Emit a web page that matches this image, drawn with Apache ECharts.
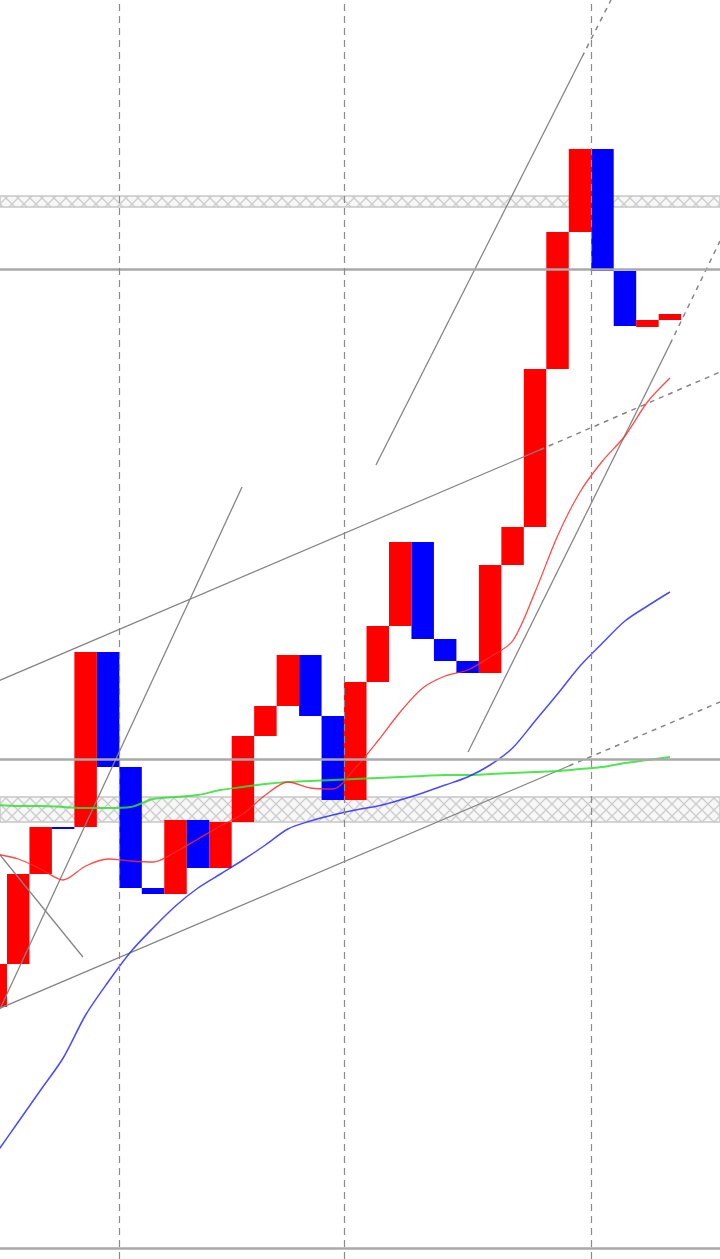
<!DOCTYPE html>
<html>
<head>
<meta charset="utf-8">
<script src="https://cdn.jsdelivr.net/npm/echarts@6/dist/echarts.min.js"></script>
<style>
html, body { margin: 0; padding: 0; background: #fff; }
#chart { width: 720px; height: 1259px; }
</style>
</head>
<body>
<div id="chart"></div>
<script>
// three line break boxes, one per column
const opens = [139.93, 140.36, 141.26, 141.73, 141.73, 143.48, 142.33, 141.12, 141.06, 141.80,
  141.32, 141.78, 142.64, 142.94, 143.45, 142.84, 142.00, 143.18, 143.74, 144.58,
  143.61, 143.39, 143.27, 144.35, 144.73, 146.31, 147.68, 148.51, 147.29, 146.73, 146.80];
const closes = [140.36, 141.26, 141.73, 141.71, 143.48, 142.33, 141.12, 141.06, 141.80, 141.32,
  141.78, 142.64, 142.94, 143.45, 142.84, 142.00, 143.18, 143.74, 144.58, 143.61,
  143.39, 143.27, 144.35, 144.73, 146.31, 147.68, 148.51, 147.29, 146.74, 146.80, 146.86];

// moving averages, one value per column
const maFast = [141.46, 141.41, 141.31, 141.20, 141.34, 141.41, 141.39, 141.38, 141.48, 141.61,
  141.74, 141.86, 142.05, 142.18, 142.12, 142.11, 142.32, 142.59, 142.88, 143.12,
  143.24, 143.30, 143.43, 143.59, 144.08, 144.64, 145.08, 145.39, 145.64, 145.98, 146.22];
const maMid = [138.46, 138.78, 139.10, 139.42, 139.85, 140.18, 140.48, 140.72, 140.94, 141.12,
  141.26, 141.40, 141.55, 141.71, 141.79, 141.85, 141.90, 141.94, 142.00, 142.07,
  142.15, 142.23, 142.35, 142.52, 142.79, 143.06, 143.34, 143.57, 143.79, 143.94, 144.08];
const maSlow = [141.95, 141.94, 141.94, 141.93, 141.92, 141.92, 141.93, 142.01, 142.03, 142.05,
  142.10, 142.13, 142.16, 142.18, 142.19, 142.20, 142.21, 142.22, 142.23, 142.24,
  142.25, 142.25, 142.26, 142.27, 142.28, 142.29, 142.31, 142.33, 142.37, 142.40, 142.43];

// horizontal levels and hatched zones
const levels = [147.31, 142.41, 137.52];
const zones = [[148.04, 147.93], [142.03, 141.78]];
// session separators (between columns)
const sessionBreaks = [5.5, 15.5, 26.5];

// drawn trend lines: solid part [x1, y1, x2, y2], then dashed extension
const trendSolid = [
  [0.0, 143.18, 24.2, 145.50],
  [0.0, 139.90, 25.5, 142.34],
  [0.19, 139.91, 10.96, 145.13],
  [0.19, 141.45, 3.88, 140.43],
  [16.92, 145.35, 26.09, 149.43],
  [21.02, 142.48, 30.01, 146.56]
];
const trendDashed = [
  [24.2, 145.50, 32.23, 146.28],
  [25.5, 142.34, 32.23, 142.98],
  [26.09, 149.43, 27.38, 150.00],
  [30.01, 146.56, 32.23, 147.59]
];

function hatch() {
  const c = document.createElement('canvas');
  c.width = 12; c.height = 12;
  const g = c.getContext('2d');
  g.fillStyle = '#f7f7f7';
  g.fillRect(0, 0, 12, 12);
  g.strokeStyle = '#cdcdcd';
  g.lineWidth = 1.4;
  g.beginPath();
  g.moveTo(0, 0); g.lineTo(12, 12);
  g.moveTo(12, 0); g.lineTo(0, 12);
  g.stroke();
  return c;
}

const chart = echarts.init(document.getElementById('chart'));

const boxData = opens.map((o, i) => [i, o, closes[i]]);

const series = [
  {
    type: 'line',
    data: [],
    z: 1,
    silent: true,
    markArea: {
      silent: true,
      itemStyle: { color: { image: hatch(), repeat: 'repeat' }, borderColor: '#c8c8c8', borderWidth: 1.5 },
      data: zones.map(z => [{ yAxis: z[0] }, { yAxis: z[1] }])
    },
    markLine: {
      silent: true,
      symbol: 'none',
      label: { show: false },
      data: [
        ...levels.map(v => ({ yAxis: v, lineStyle: { color: '#a9a9a9', width: 2.5, type: 'solid' } })),
        ...sessionBreaks.map(v => ({ xAxis: v, lineStyle: { color: '#8a8a8a', width: 1.2, type: [7, 5] } }))
      ]
    }
  },
  {
    type: 'custom',
    z: 2,
    data: boxData,
    encode: { x: 0, y: [1, 2] },
    clip: true,
    renderItem: (params, api) => {
      const i = api.value(0), o = api.value(1), c = api.value(2);
      const p1 = api.coord([i - 0.5, Math.max(o, c)]);
      const p2 = api.coord([i + 0.5, Math.min(o, c)]);
      return {
        type: 'rect',
        shape: { x: p1[0], y: p1[1], width: p2[0] - p1[0], height: Math.max(p2[1] - p1[1], 2) },
        style: { fill: c >= o ? '#ff0000' : '#0000ff' }
      };
    }
  }
];

trendSolid.forEach(t => series.push({
  type: 'line', z: 3, symbol: 'none', silent: true,
  data: [[t[0], t[1]], [t[2], t[3]]],
  lineStyle: { color: '#848484', width: 1.3 }
}));
trendDashed.forEach(t => series.push({
  type: 'line', z: 3, symbol: 'none', silent: true,
  data: [[t[0], t[1]], [t[2], t[3]]],
  lineStyle: { color: '#848484', width: 1.5, type: [5, 5] }
}));

[[maSlow, '#33e033', 2], [maFast, '#ff2a2a', 1.3], [maMid, '#2a2aff', 1.5]].forEach(m => series.push({
  type: 'line', z: 4, symbol: 'none', silent: true, smooth: 0.3,
  data: m[0].map((v, i) => [i, v]),
  lineStyle: { color: m[1], width: m[2], opacity: 0.85 }
}));

const option = {
  animation: false,
  grid: { left: 0, right: 0, top: 0, bottom: 0 },
  xAxis: { type: 'value', min: 0.19, max: 32.23, show: false, splitLine: { show: false } },
  yAxis: { type: 'value', min: 137.41, max: 150, show: false, splitLine: { show: false } },
  series: series
};

option && chart.setOption(option);
</script>
</body>
</html>
